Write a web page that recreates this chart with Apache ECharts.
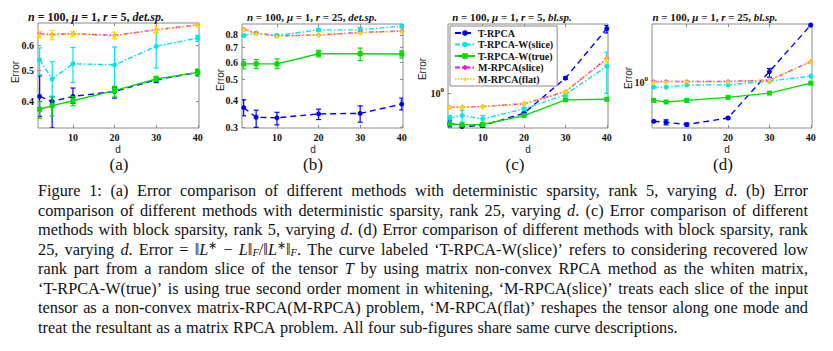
<!DOCTYPE html>
<html>
<head>
<meta charset="utf-8">
<script src="https://cdn.jsdelivr.net/npm/echarts@6/dist/echarts.min.js"></script>
<style>html,body{margin:0;padding:0;background:#fff}#main{width:833px;height:351px}</style>
</head>
<body>
<div id="main"></div>
<script>
// 数据：横轴 d 的取值
var dVals = [2, 5, 10, 20, 30, 40];
var xTicks = [10, 20, 30, 40];
var names = ['T-RPCA', 'T-RPCA-W(slice)', 'T-RPCA-W(true)', 'M-RPCA(slice)', 'M-RPCA(flat)'];

// (a) det.sp., r = 5
var aTR = [0.415, 0.400, 0.415, 0.430, 0.468, 0.494];
var aTRLo = [0.359, 0.330, 0.395, 0.410, 0.459, 0.482];
var aTRHi = [0.482, 0.415, 0.441, 0.444, 0.477, 0.504];
var aWS = [0.541, 0.471, 0.526, 0.522, 0.597, 0.634];
var aWSLo = [0.485, 0.415, 0.459, 0.446, 0.510, 0.619];
var aWSHi = [0.590, 0.534, 0.592, 0.594, 0.661, 0.646];
var aWT = [0.378, 0.388, 0.402, 0.433, 0.471, 0.494];
var aWTLo = [0.354, 0.360, 0.388, 0.413, 0.462, 0.482];
var aWTHi = [0.400, 0.413, 0.415, 0.446, 0.480, 0.506];
var aMS = [0.653, 0.650, 0.654, 0.646, 0.673, 0.698];
var aMF = [0.650, 0.647, 0.652, 0.644, 0.672, 0.697];
var aMFLo = [0.634, 0.626, 0.642, 0.630, 0.658, 0.688];
var aMFHi = [0.665, 0.670, 0.665, 0.662, 0.690, 0.707];

// (b) det.sp., r = 25
var bTR = [0.371, 0.335, 0.333, 0.347, 0.349, 0.385];
var bTRLo = [0.340, 0.301, 0.309, 0.327, 0.318, 0.362];
var bTRHi = [0.403, 0.361, 0.353, 0.365, 0.378, 0.410];
var bWS = [0.795, 0.815, 0.795, 0.844, 0.844, 0.879];
var bWSLo = [0.785, 0.805, 0.785, 0.832, 0.825, 0.862];
var bWSHi = [0.805, 0.825, 0.805, 0.856, 0.866, 0.898];
var bWT = [0.589, 0.589, 0.589, 0.656, 0.656, 0.654];
var bWTLo = [0.559, 0.561, 0.561, 0.634, 0.610, 0.627];
var bWTHi = [0.617, 0.617, 0.621, 0.680, 0.696, 0.677];
var bMS = [0.850, 0.815, 0.792, 0.800, 0.820, 0.834];
var bMF = [0.848, 0.812, 0.790, 0.798, 0.818, 0.832];

// (c) bl.sp., r = 5
var cTR = [0.671, 0.642, 0.651, 0.767, 1.22, 2.35];
var cTRLo = [0.640, 0.630, 0.635, 0.760, 1.20, 2.22];
var cTRHi = [0.700, 0.660, 0.668, 0.775, 1.24, 2.45];
var cWS = [0.721, 0.743, 0.711, 0.812, 0.978, 1.43];
var cWSLo = [0.665, 0.680, 0.680, 0.800, 0.960, 1.00];
var cWSHi = [0.743, 0.794, 0.743, 0.825, 0.995, 1.72];
var cWT = [0.666, 0.657, 0.660, 0.743, 0.915, 0.923];
var cMS = [0.830, 0.830, 0.838, 0.868, 1.02, 1.58];
var cMF = [0.828, 0.828, 0.836, 0.872, 1.018, 1.56];
var cMFLo = [0.820, 0.820, 0.828, 0.865, 1.005, 1.48];
var cMFHi = [0.836, 0.836, 0.844, 0.879, 1.030, 1.61];

// (d) bl.sp., r = 25
var dTR = [0.539, 0.531, 0.512, 0.568, 1.18, 2.46];
var dTRLo = [0.530, 0.510, 0.500, 0.560, 1.08, 2.40];
var dTRHi = [0.548, 0.552, 0.525, 0.576, 1.24, 2.50];
var dWS = [0.924, 0.924, 0.954, 0.959, 1.016, 1.10];
var dWT = [0.750, 0.731, 0.750, 0.786, 0.841, 0.984];
var dMS = [1.01, 1.01, 1.01, 1.01, 1.03, 1.38];
var dMF = [1.005, 1.005, 1.01, 1.005, 1.03, 1.38];

var capLines = [
  'Figure 1: (a) Error comparison of different methods with deterministic sparsity, rank 5, varying _d_. (b) Error',
  'comparison of different methods with deterministic sparsity, rank 25, varying _d_. (c) Error comparison of different',
  'methods with block sparsity, rank 5, varying _d_. (d) Error comparison of different methods with block sparsity, rank',
  '25, varying _d_. Error = ‖_L_^∗^ − _L_‖~F~/‖_L_^∗^‖~F~. The curve labeled ‘T-RPCA-W(slice)’ refers to considering recovered low',
  'rank part from a random slice of the tensor _T_ by using matrix non-convex RPCA method as the whiten matrix,',
  '‘T-RPCA-W(true)’ is using true second order moment in whitening, ‘M-RPCA(slice)’ treats each slice of the input',
  'tensor as a non-convex matrix-RPCA(M-RPCA) problem, ‘M-RPCA(flat)’ reshapes the tensor along one mode and',
  'treat the resultant as a matrix RPCA problem. All four sub-figures share same curve descriptions.'
];

var colors = ['#0000ff', '#00e5ee', '#00dd00', '#ff00ff', '#ffdd00'];
var dashes = [[6, 4], [5, 2, 1.5, 2], 'solid', [5, 2, 1.5, 2], [1.5, 1.5]];
var star = 'path://M50 0L61 35L98 35L68 57L79 91L50 70L21 91L32 57L2 35L39 35Z';
var symbols = ['circle', 'circle', 'rect', 'diamond', star];
var serif = '"Liberation Serif", serif';
var sans = '"Liberation Sans", Arial, sans-serif';
var gray = '#8a8a8a';

var panels = [
  {grid: {left: 38, top: 23, width: 161, height: 105}, ymin: 0.33, ymax: 0.707, ticks: [0.4, 0.5, 0.6],
    lines: [aTR, aWS, aWT, aMS, aMF], errs: [[aTRLo, aTRHi], [aWSLo, aWSHi], [aWTLo, aWTHi], null, [aMFLo, aMFHi]],
    title: 'n|5|det.sp.', tx: 96, tsize: 12, ex: 15, ey: 72, dx: 118, lx: 119, lab: '(a)'},
  {grid: {left: 242, top: 24, width: 161, height: 104}, ymin: 0.299, ymax: 0.898, ticks: [0.3, 0.4, 0.5, 0.6, 0.7, 0.8],
    lines: [bTR, bWS, bWT, bMS, bMF], errs: [[bTRLo, bTRHi], [bWSLo, bWSHi], [bWTLo, bWTHi], null, null],
    title: 'n|25|det.sp.', tx: 312, tsize: 11, ex: 220, ey: 80, dx: 313, lx: 313, lab: '(b)'},
  {grid: {left: 448, top: 24, width: 160, height: 104}, ymin: 0.63, ymax: 2.5, ticks: [1], pow: true,
    lines: [cTR, cWS, cWT, cMS, cMF], errs: [[cTRLo, cTRHi], [cWSLo, cWSHi], null, null, [cMFLo, cMFHi]],
    title: 'n|5|bl.sp.', tx: 512, tsize: 11, ex: 422, ey: 69, dx: 528, lx: 515, lab: '(c)'},
  {grid: {left: 652, top: 24, width: 160, height: 104}, ymin: 0.485, ymax: 2.5, ticks: [1], pow: true,
    lines: [dTR, dWS, dWT, dMS, dMF], errs: [[dTRLo, dTRHi], null, null, null, null],
    title: 'n|25|bl.sp.', tx: 715, tsize: 11, ex: 628, ey: 78, dx: 727, lx: 723, lab: '(d)'}
];

function errRender(params, api) {
  var x = api.value(0);
  var lo = api.coord([x, api.value(1)]);
  var hi = api.coord([x, api.value(2)]);
  var w = 2.5;
  var st = {stroke: api.visual('color'), lineWidth: 1.2};
  return {type: 'group', children: [
    {type: 'line', shape: {x1: lo[0], y1: lo[1], x2: hi[0], y2: hi[1]}, style: st},
    {type: 'line', shape: {x1: lo[0] - w, y1: lo[1], x2: lo[0] + w, y2: lo[1]}, style: st},
    {type: 'line', shape: {x1: hi[0] - w, y1: hi[1], x2: hi[0] + w, y2: hi[1]}, style: st}
  ]};
}

var grids = [], xAxes = [], yAxes = [], series = [], graphics = [];
var tickLabel = {color: '#111', fontFamily: serif, fontWeight: 'bold', fontSize: 10};

panels.forEach(function (p, i) {
  grids.push(Object.assign({show: true, borderColor: gray, borderWidth: 1, outerBoundsMode: 'none'}, p.grid));
  [false, true].forEach(function (mirror) {
    xAxes.push({
      type: 'value', gridIndex: i, min: 1.6, max: 40.3, position: mirror ? 'top' : 'bottom',
      axisLine: {show: false},
      axisTick: {show: true, inside: true, length: 3, customValues: xTicks, lineStyle: {color: gray}},
      axisLabel: Object.assign({show: !mirror, customValues: xTicks, margin: 4}, tickLabel),
      splitLine: {show: false}
    });
    yAxes.push({
      type: 'log', gridIndex: i, min: p.ymin, max: p.ymax, position: mirror ? 'right' : 'left',
      axisLine: {show: false},
      axisTick: {show: true, inside: true, length: 3, customValues: p.ticks, lineStyle: {color: gray}},
      axisLabel: Object.assign({
        show: !mirror, customValues: p.ticks, margin: 4,
        formatter: p.pow ? function () { return '{b|10}{s|0}'; } : function (v) { return (+v).toFixed(1); },
        rich: {b: {fontFamily: serif, fontWeight: 'bold', fontSize: 10, lineHeight: 14, color: '#111'},
               s: {fontFamily: serif, fontWeight: 'bold', fontSize: 7, lineHeight: 8, verticalAlign: 'top', color: '#111'}}
      }, tickLabel),
      splitLine: {show: false}
    });
  });
  p.lines.forEach(function (vals, k) {
    series.push({
      name: names[k], type: 'line', xAxisIndex: 2 * i, yAxisIndex: 2 * i,
      data: dVals.map(function (d, j) { return [d, vals[j]]; }),
      symbol: symbols[k], symbolSize: k === 4 ? 7 : 5, showSymbol: true,
      itemStyle: {color: colors[k]},
      lineStyle: {color: colors[k], width: 1.4, type: dashes[k]},
      animation: false, z: 2 + k * 0.1
    });
    if (p.errs[k]) {
      var e = p.errs[k];
      series.push({
        name: names[k] + ' err', type: 'custom', xAxisIndex: 2 * i, yAxisIndex: 2 * i,
        renderItem: errRender, clip: true, itemStyle: {color: colors[k]},
        encode: {x: 0, y: [1, 2]},
        data: dVals.map(function (d, j) { return [d, e[0][j], e[1][j]]; }),
        animation: false, z: 2 + k * 0.1
      });
    }
  });
  var tp = p.title.split('|');
  graphics.push({type: 'text', x: p.tx, y: 17, style: {
    text: '{i|' + tp[0] + '} = 100, {i|μ} = 1, {i|r} = ' + tp[1] + ', {i|' + tp[2] + '}',
    align: 'center', verticalAlign: 'middle', fill: '#111', fontFamily: serif, fontWeight: 'bold', fontSize: p.tsize,
    rich: {i: {fontStyle: 'italic', fontWeight: 'bold', fontFamily: serif, fontSize: p.tsize}}}});
  graphics.push({type: 'text', x: p.ex, y: p.ey, rotation: Math.PI / 2, style: {
    text: 'Error', align: 'center', verticalAlign: 'middle', fill: '#222', fontFamily: sans, fontSize: 10}});
  graphics.push({type: 'text', x: p.dx, y: 149, style: {
    text: 'd', align: 'center', verticalAlign: 'middle', fill: '#222', fontFamily: sans, fontSize: 10}});
  graphics.push({type: 'text', x: p.lx, y: 164, style: {
    text: p.lab, align: 'center', verticalAlign: 'middle', fill: '#111', fontFamily: serif, fontSize: 17}});
});

// 图注：逐词两端对齐
var capFont = 16.3, capLeft = 38, capRight = 808, capTop = 190.5, capStep = 19.5;
var capStyles = {r: ['normal', capFont], i: ['italic', capFont], sup: ['normal', 10.5], sub: ['italic', 10.5]};
var ctx = document.createElement('canvas').getContext('2d');
function segs(word) {
  var out = [], re = /_([^_]+)_|\^([^\^]+)\^|~([^~]+)~/g, last = 0, m;
  while ((m = re.exec(word))) {
    if (m.index > last) out.push({t: word.slice(last, m.index), k: 'r'});
    if (m[1]) out.push({t: m[1], k: 'i'});
    else if (m[2]) out.push({t: m[2], k: 'sup'});
    else out.push({t: m[3], k: 'sub'});
    last = re.lastIndex;
  }
  if (last < word.length) out.push({t: word.slice(last), k: 'r'});
  return out;
}
function segW(s) {
  var st = capStyles[s.k];
  ctx.font = st[0] + ' ' + st[1] + 'px "Liberation Serif"';
  return ctx.measureText(s.t).width;
}
var capRich = {
  r: {fontFamily: serif, fontSize: capFont, lineHeight: 18},
  i: {fontFamily: serif, fontSize: capFont, fontStyle: 'italic', lineHeight: 18},
  sup: {fontFamily: serif, fontSize: 10.5, lineHeight: 10, verticalAlign: 'top'},
  sub: {fontFamily: serif, fontSize: 10.5, fontStyle: 'italic', lineHeight: 10, verticalAlign: 'bottom'}
};
ctx.font = 'normal ' + capFont + 'px "Liberation Serif"';
var spaceW = ctx.measureText(' ').width;
capLines.forEach(function (line, li) {
  var words = line.split(' ').filter(function (w) { return w.length; });
  var parts = words.map(segs);
  var widths = parts.map(function (ss) { return ss.reduce(function (a, s) { return a + segW(s); }, 0); });
  var total = widths.reduce(function (a, b) { return a + b; }, 0);
  var gap = li < capLines.length - 1 ? (capRight - capLeft - total) / (words.length - 1) : spaceW * 1.1;
  gap = Math.max(gap, spaceW * 0.7);
  var x = capLeft;
  parts.forEach(function (ss, wi) {
    graphics.push({type: 'text', x: x, y: capTop + li * capStep, style: {
      text: ss.map(function (s) { return '{' + s.k + '|' + s.t + '}'; }).join(''),
      align: 'left', verticalAlign: 'middle', fill: '#111', rich: capRich}});
    x += widths[wi] + gap;
  });
});

var myChart = echarts.init(document.getElementById('main'), null, {renderer: 'svg'});
var option = {
  animation: false,
  backgroundColor: '#fff',
  grid: grids,
  xAxis: xAxes,
  yAxis: yAxes,
  legend: {
    data: names, left: 450, top: 26, orient: 'vertical', selectedMode: false,
    itemWidth: 20, itemHeight: 7, itemGap: 1.5, padding: [2, 4, 2, 4],
    backgroundColor: '#fff', borderColor: gray, borderWidth: 1,
    textStyle: {fontFamily: serif, fontSize: 10, fontWeight: 'bold', color: '#111', padding: [0, 0, 0, -2]}
  },
  series: series,
  graphic: {elements: graphics}
};
myChart.setOption(option);
window.onresize = function () { myChart.resize(); };
</script>
</body>
</html>
